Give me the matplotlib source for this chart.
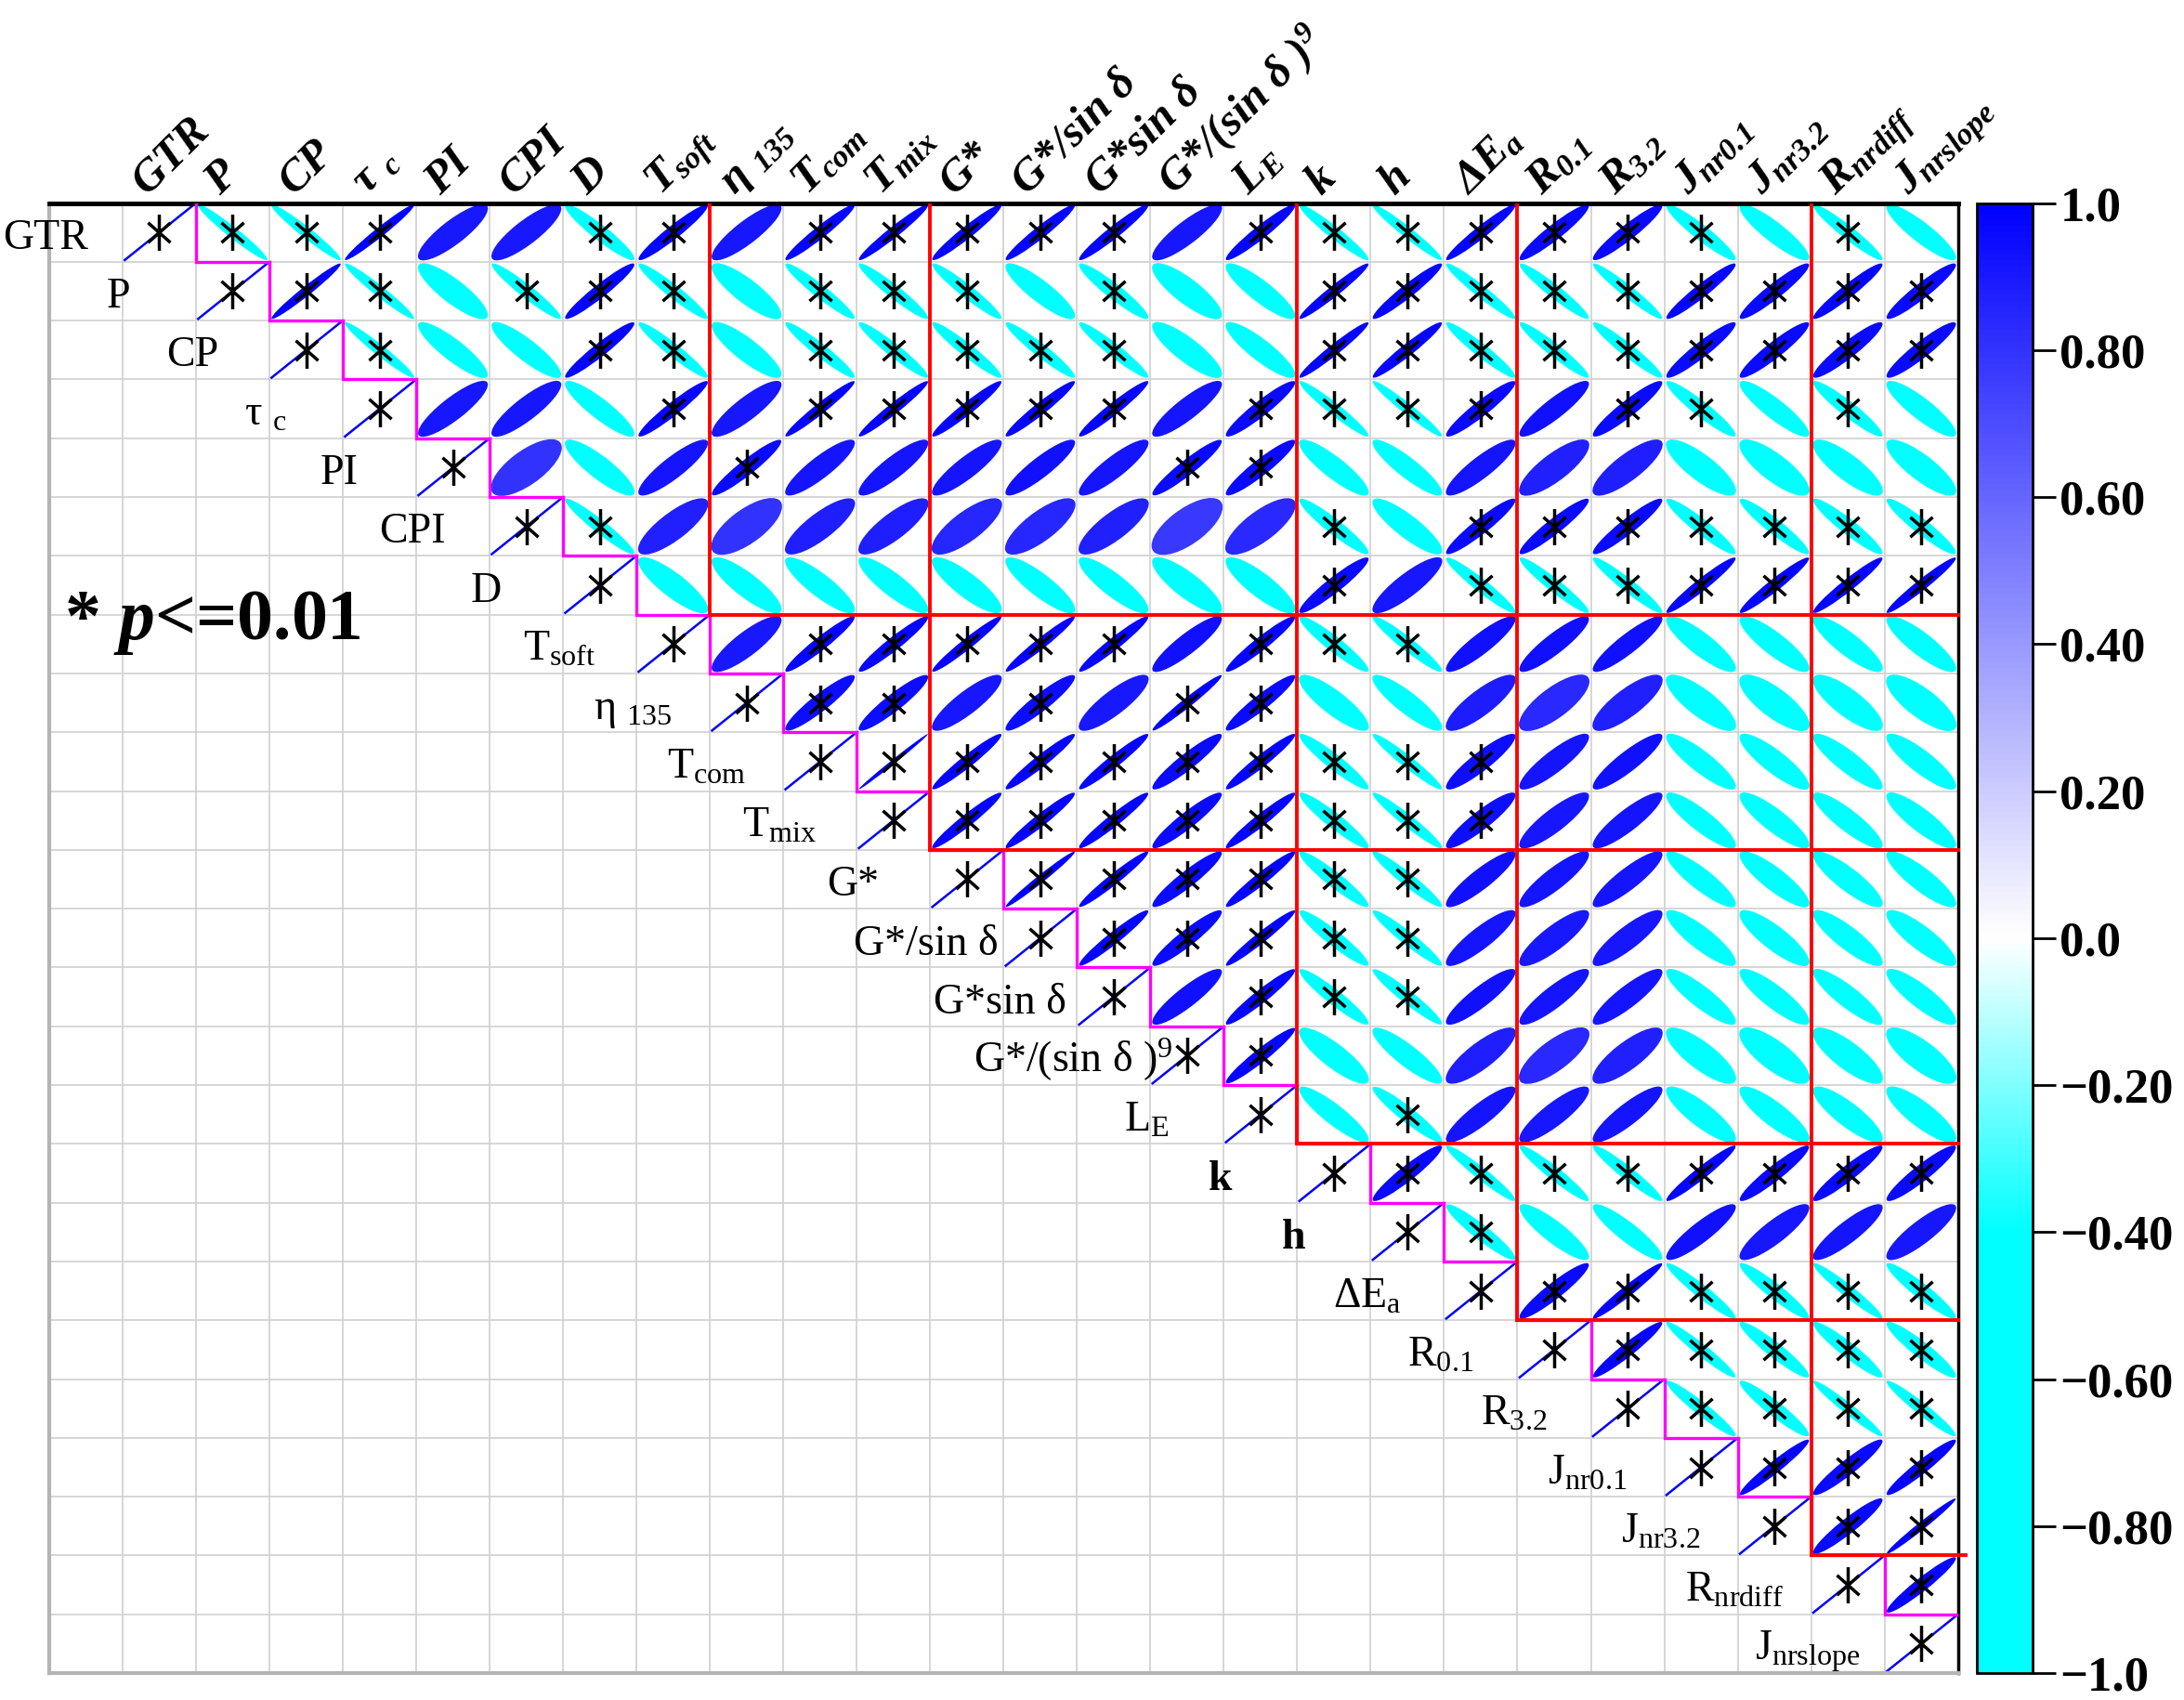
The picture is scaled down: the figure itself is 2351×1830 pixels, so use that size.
import numpy as np
import matplotlib
matplotlib.use("Agg")
import matplotlib as mpl
import matplotlib.pyplot as plt
from matplotlib.patches import Ellipse
from matplotlib.colors import LinearSegmentedColormap, Normalize
from matplotlib.path import Path

plt.rc('font', family='Liberation Serif')
plt.rc('mathtext', fontset='custom', rm='Liberation Serif', it='Liberation Serif:italic',
       bf='Liberation Serif:bold')
plt.rcParams['mathtext.bfit'] = 'Liberation Serif:italic:bold'

# variable names (row labels regular, column labels bold italic)
row_labels = ["GTR", "P", "CP", r"τ $_{\mathrm{c}}$", "PI", "CPI", "D",
              r"T$_{\mathrm{soft}}$", r"η $_{\mathrm{135}}$", r"T$_{\mathrm{com}}$", r"T$_{\mathrm{mix}}$",
              "G*", "G*/sin δ", "G*sin δ", r"G*/(sin δ )$^{\mathrm{9}}$", r"L$_{\mathrm{E}}$",
              "k", "h", r"ΔE$_{\mathrm{a}}$", r"R$_{\mathrm{0.1}}$", r"R$_{\mathrm{3.2}}$",
              r"J$_{\mathrm{nr0.1}}$", r"J$_{\mathrm{nr3.2}}$", r"R$_{\mathrm{nrdiff}}$", r"J$_{\mathrm{nrslope}}$"]
col_labels = ["GTR", "P", "CP", r"τ $_{\mathbfit{c}}$", "PI", "CPI", "D",
              r"T$_{\mathbfit{soft}}$", r"η $_{\mathbfit{135}}$", r"T$_{\mathbfit{com}}$", r"T$_{\mathbfit{mix}}$",
              "G*", "G*/sin δ", "G*sin δ", r"G*/(sin δ )$^{\mathbfit{9}}$", r"L$_{\mathbfit{E}}$",
              "k", "h", r"ΔE$_{\mathbfit{a}}$", r"R$_{\mathbfit{0.1}}$", r"R$_{\mathbfit{3.2}}$",
              r"J$_{\mathbfit{nr0.1}}$", r"J$_{\mathbfit{nr3.2}}$", r"R$_{\mathbfit{nrdiff}}$", r"J$_{\mathbfit{nrslope}}$"]

# upper triangle correlations, row i holds columns i+1 .. 24
corr_rows = [
    [-0.98, -0.98, 0.985, 0.90, 0.90, -0.96, 0.97, 0.91, 0.975, 0.98, 0.975, 0.975, 0.975, 0.91, 0.97,
     -0.975, -0.98, 0.975, 0.96, 0.96, -0.96, -0.93, -0.97, -0.93],
    [0.985, -0.98, -0.90, -0.97, 0.97, -0.97, -0.90, -0.97, -0.97, -0.97, -0.92, -0.96, -0.89, -0.92,
     0.98, 0.97, -0.975, -0.97, -0.975, 0.97, 0.96, 0.97, 0.96],
    [-0.98, -0.92, -0.92, 0.97, -0.97, -0.91, -0.97, -0.97, -0.97, -0.97, -0.97, -0.90, -0.92,
     0.98, 0.975, -0.97, -0.97, -0.97, 0.96, 0.955, 0.955, 0.955],
    [0.91, 0.91, -0.93, 0.97, 0.91, 0.98, 0.98, 0.975, 0.975, 0.975, 0.92, 0.96,
     -0.975, -0.98, 0.96, 0.93, 0.955, -0.96, -0.93, -0.96, -0.92],
    [0.80, -0.91, 0.92, 0.96, 0.92, 0.92, 0.92, 0.93, 0.92, 0.96, 0.955,
     -0.92, -0.93, 0.92, 0.87, 0.88, -0.88, -0.87, -0.885, -0.885],
    [-0.97, 0.87, 0.80, 0.88, 0.88, 0.85, 0.85, 0.87, 0.78, 0.84,
     -0.96, -0.91, 0.96, 0.96, 0.96, -0.96, -0.96, -0.96, -0.96],
    [-0.90, -0.90, -0.91, -0.91, -0.90, -0.91, -0.91, -0.89, -0.90,
     0.96, 0.91, -0.97, -0.97, -0.97, 0.975, 0.975, 0.975, 0.98],
    [0.90, 0.97, 0.97, 0.98, 0.98, 0.975, 0.93, 0.97, -0.96, -0.97, 0.93, 0.93, 0.935, -0.91, -0.91, -0.91, -0.91],
    [0.95, 0.95, 0.91, 0.95, 0.90, 0.985, 0.96, -0.90, -0.92, 0.89, 0.84, 0.87, -0.87, -0.85, -0.87, -0.85],
    [0.997, 0.975, 0.975, 0.975, 0.955, 0.975, -0.96, -0.975, 0.94, 0.92, 0.93, -0.92, -0.91, -0.92, -0.91],
    [0.975, 0.975, 0.975, 0.955, 0.975, -0.96, -0.975, 0.94, 0.91, 0.92, -0.92, -0.91, -0.92, -0.91],
    [0.99, 0.98, 0.955, 0.975, -0.96, -0.97, 0.93, 0.92, 0.92, -0.92, -0.91, -0.91, -0.91],
    [0.975, 0.955, 0.98, -0.96, -0.97, 0.92, 0.90, 0.91, -0.91, -0.90, -0.91, -0.90],
    [0.93, 0.97, -0.96, -0.97, 0.93, 0.92, 0.92, -0.92, -0.91, -0.92, -0.91],
    [0.97, -0.90, -0.92, 0.88, 0.84, 0.87, -0.87, -0.85, -0.87, -0.85],
    [-0.93, -0.96, 0.92, 0.91, 0.92, -0.90, -0.90, -0.90, -0.89],
    [0.96, -0.975, -0.97, -0.97, 0.975, 0.96, 0.96, 0.955],
    [-0.96, -0.92, -0.935, 0.93, 0.91, 0.92, 0.91],
    [0.955, 0.98, -0.97, -0.96, -0.975, -0.96],
    [0.97, -0.975, -0.96, -0.96, -0.955],
    [-0.97, -0.96, -0.98, -0.975],
    [0.975, 0.96, 0.97],
    [0.96, 0.99],
    [0.97],
]
# '*' marks p<=0.01 for the same cells
star_rows = [
    "***..**.*****.*******.*.",
    "**.***.***.*..*********",
    "*..**.*****..*********",
    "...*.*****.****.**.*.",
    "...*.....**.........",
    "*.........*.*******",
    ".........*.*******",
    ".*****.***.......",
    "**.*.**.........",
    "*********......",
    "********......",
    "******.......",
    "*****.......",
    ".***.......",
    "*.........",
    ".*.......",
    "********",
    "*......",
    "******",
    "*****",
    "****",
    "***",
    "**",
    "*",
]
# block separators (red) : vertical column boundary, horizontal row boundary
red_cols = [8, 11, 16, 19, 23]
red_rows = [7, 11, 16, 19, 23]

n = len(row_labels)
R = np.eye(n)
S = np.eye(n, dtype=bool)
for i, (vals, st) in enumerate(zip(corr_rows, star_rows)):
    for k, (v, s) in enumerate(zip(vals, st)):
        R[i, i + 1 + k] = v
        S[i, i + 1 + k] = (s == '*')

cmap = LinearSegmentedColormap.from_list(
    'cw', [(0.0, '#00ffff'), (0.3, '#00ffff'), (0.5, '#ffffff'), (1.0, '#0000ff')])
norm = Normalize(-1, 1)

star = Path([(0, -1), (0, 1), (-0.62, -0.55), (0.62, 0.55), (-0.62, 0.55), (0.62, -0.55)],
            [Path.MOVETO, Path.LINETO, Path.MOVETO, Path.LINETO, Path.MOVETO, Path.LINETO])

fig = plt.figure(figsize=(23.51, 18.30), dpi=100)
ax = fig.add_axes([0.0225, 0.0158, 0.874, 0.8648])
ax.set_xlim(-1, n)
ax.set_ylim(0, n)
ax.set_xticks([])
ax.set_yticks([])

for k in range(-1, n + 1):
    ax.axvline(k, color='#d0d0d0', lw=1.2, zorder=0)
for k in range(n + 1):
    ax.axhline(k, color='#d0d0d0', lw=1.2, zorder=0)

a = 0.47
for i in range(n):
    cy = n - i - 0.5
    for j in range(i, n):
        cx = j + 0.5
        r = R[i, j]
        if i == j:
            ax.plot([cx - a, cx + a], [cy - a, cy + a], color='#0000ff', lw=1.8, zorder=2)
        else:
            e = Ellipse((cx, cy), width=2 * a * np.sqrt(1 + abs(r)),
                        height=2.5 * a * np.sqrt(1 - abs(r)),
                        angle=45 if r > 0 else -45, facecolor=cmap(norm(r)), edgecolor='none', zorder=2)
            ax.add_patch(e)
        if S[i, j]:
            ax.plot(cx, cy, marker=star, markersize=28, mec='black', mew=2.5, mfc='none', zorder=5)

# staircase along diagonal
for i in range(n - 1):
    ax.plot([i + 1, i + 1, i + 2], [n - i, n - i - 1, n - i - 1], color='#ff00ff', lw=2.4,
            solid_joinstyle='miter', zorder=6)
for c, rr in zip(red_cols, red_rows):
    ax.plot([c, c], [n, n - rr], color='#ff0000', lw=2.8, zorder=7)
    x_end = n + 0.1 if rr == red_rows[-1] else n
    ax.plot([c, x_end], [n - rr, n - rr], color='#ff0000', lw=2.8, zorder=7, clip_on=False)

for i, lab in enumerate(row_labels):
    w = 'bold' if lab in ('k', 'h') else 'normal'
    ax.text(i - 1.05, n - i - 0.78, lab, ha='center', va='baseline', fontsize=33, fontweight=w, zorder=8)
for j, lab in enumerate(col_labels):
    ax.text(j + 0.33, n + 0.12, lab, rotation=45, rotation_mode='anchor', ha='left', va='baseline',
            fontsize=35, fontweight='bold', fontstyle='italic', clip_on=False)

ax.text(1.23, 17.86, r"* $\mathbfit{p}$<=0.01", ha='center', va='center', fontsize=56, fontweight='bold')

ax.spines['top'].set(color='black', lw=3.5)
ax.spines['right'].set(color='black', lw=2.5)
ax.spines['left'].set(color='#b4b4b4', lw=3.0)
ax.spines['bottom'].set(color='#b4b4b4', lw=3.0)

cax = fig.add_axes([0.905, 0.0158, 0.0255, 0.8648])
cb = fig.colorbar(mpl.cm.ScalarMappable(norm=norm, cmap=cmap), cax=cax)
ticks = np.linspace(-1, 1, 11)
tick_text = ["\u22121.0", "\u22120.80", "\u22120.60", "\u22120.40", "\u22120.20", "0.0",
             "0.20", "0.40", "0.60", "0.80", "1.0"]
cb.set_ticks(ticks)
cb.set_ticklabels(tick_text)
cb.outline.set_linewidth(2.0)
cax.tick_params(length=18, width=2, labelsize=38, direction='out')
for t in cax.get_yticklabels():
    t.set_fontweight('bold')

fig.savefig('out.png', dpi=100)
